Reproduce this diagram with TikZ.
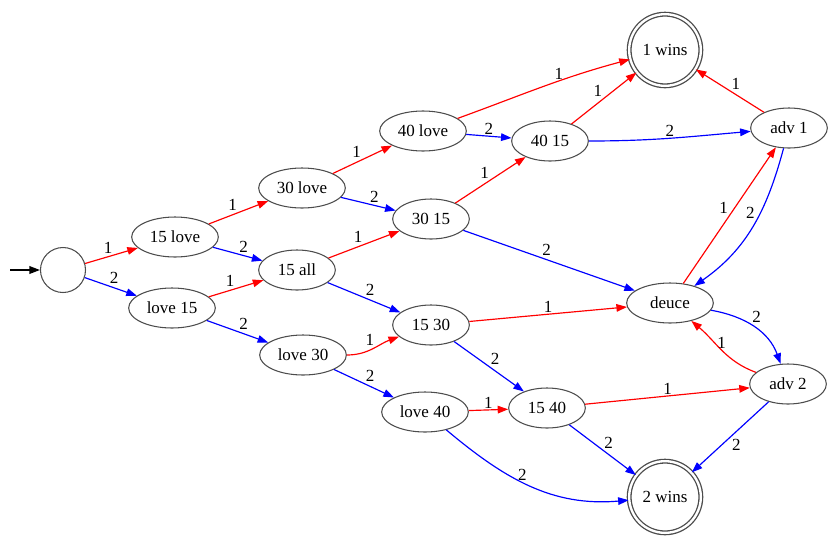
\documentclass[tikz,border=0pt]{standalone}
\usepackage{fontspec}
\setmainfont{Liberation Serif}
\usetikzlibrary{shapes.geometric,arrows.meta}
\begin{document}
\begin{tikzpicture}[x=0.03cm,y=-0.03cm,
  st/.style={ellipse,draw=black!70,line width=0.9pt,minimum width=2.6cm,minimum height=1.2cm,inner sep=0pt,font=\fontsize{14.5}{14.5}\selectfont},
  stw/.style={st,minimum width=2.3cm},
  win/.style={circle,draw=black!70,double,double distance=2pt,line width=1.1pt,minimum size=2.15cm,inner sep=0pt,font=\fontsize{14.5}{14.5}\selectfont},
  a/.style={-{Triangle[length=9pt,width=6.5pt]},line width=1pt},
  r/.style={a,red},
  b/.style={a,blue},
  lb/.style={font=\fontsize{14.5}{14.5}\selectfont,text=black,inner sep=1pt}]
\useasboundingbox (0,0) rectangle (833,551);
\node[circle,draw=black!70,line width=0.9pt,minimum size=1.35cm] (s) at (63,270) {};
\coordinate (in) at (10,270);
\node[st] (15l) at (175,237) {15 love};
\node[st] (l15) at (172,308) {love 15};
\node[st] (30l) at (302,188) {30 love};
\node[stw] (15a) at (297,270) {15 all};
\node[st] (l30) at (303,355) {love 30};
\node[st] (40l) at (423,131) {40 love};
\node[stw] (3015) at (431,219) {30 15};
\node[stw] (1530) at (431,325) {15 30};
\node[st] (l40) at (425,412) {love 40};
\node[stw] (4015) at (550,141) {40 15};
\node[stw] (1540) at (547,408) {15 40};
\node[st] (d) at (670,303) {deuce};
\node[stw] (a1) at (789,128) {adv 1};
\node[stw] (a2) at (788,384) {adv 2};
\node[win] (w1) at (665,50) {1 wins};
\node[win] (w2) at (665,497) {2 wins};

\draw[a,black,line width=1.4pt] (in) -- (s);
\draw[r] (s) -- node[lb,above left,pos=0.55]{1} (15l);
\draw[b] (s) -- node[lb,above right,pos=0.45]{2} (l15);
\draw[r] (15l) -- node[lb,above left]{1} (30l);
\draw[b] (15l) -- node[lb,above right]{2} (15a);
\draw[r] (l15) -- node[lb,above left]{1} (15a);
\draw[b] (l15) -- node[lb,above right]{2} (l30);
\draw[r] (30l) -- node[lb,above left]{1} (40l);
\draw[b] (30l) -- node[lb,above right]{2} (3015);
\draw[r] (15a) -- node[lb,above left]{1} (3015);
\draw[b] (15a) -- node[lb,above right]{2} (1530);
\draw[r] (l30) to[out=0,in=200] node[lb,above left,pos=0.55]{1} (1530);
\draw[b] (l30) -- node[lb,above right]{2} (l40);
\draw[r] (40l) to[out=20,in=195] node[lb,above,pos=0.6]{1} (w1);
\draw[b] (40l) -- node[lb,above]{2} (4015);
\draw[r] (3015) -- node[lb,above left]{1} (4015);
\draw[b] (3015) -- node[lb,above right,pos=0.45]{2} (d);
\draw[r] (1530) -- node[lb,above]{1} (d);
\draw[b] (1530) -- node[lb,above right]{2} (1540);
\draw[r] (l40) -- node[lb,above]{1} (1540);
\draw[b] (l40) to[out=-40,in=185] node[lb,above,pos=0.45]{2} (w2);
\draw[r] (4015) -- node[lb,above left]{1} (w1);
\draw[b] (4015) to[out=0,in=185] node[lb,above]{2} (a1);
\draw[r] (1540) -- node[lb,above]{1} (a2);
\draw[b] (1540) -- node[lb,above right]{2} (w2);
\draw[r] (d) -- node[lb,above left]{1} (a1);
\draw[b] (a1) to[out=-105,in=35] node[lb,above left,pos=0.45]{2} (d);
\draw[b] (d) to[out=-10,in=110] node[lb,above right,pos=0.45]{2} (a2);
\draw[r] (a2) to[out=160,in=-40] node[lb,above,pos=0.5]{1} (d);
\draw[r] (a1) -- node[lb,above right]{1} (w1);
\draw[b] (a2) -- node[lb,below right]{2} (w2);
\end{tikzpicture}
\end{document}
